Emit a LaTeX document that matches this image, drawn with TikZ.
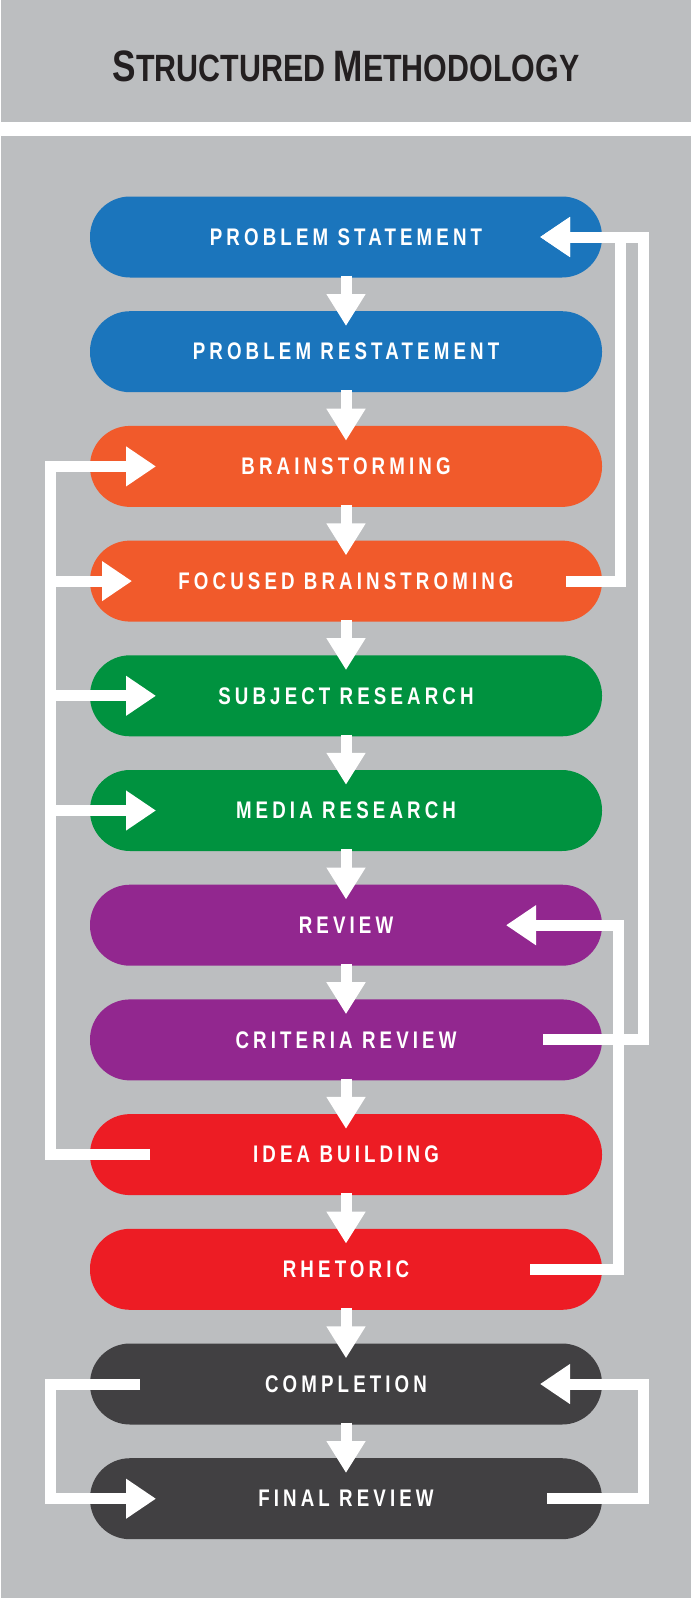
\documentclass[tikz,border=0pt]{standalone}
\usepackage{fontspec}
\setmainfont{Liberation Sans}
\newfontfamily\pillfont[LetterSpace=22]{Liberation Sans Bold}
\newfontfamily\titlefont{Liberation Sans Bold}
\usetikzlibrary{arrows.meta,calc}
\definecolor{bg}{HTML}{BCBEC0}
\definecolor{cblue}{HTML}{1B75BC}
\definecolor{corange}{HTML}{F15A2B}
\definecolor{cgreen}{HTML}{00923F}
\definecolor{cpurple}{HTML}{92278F}
\definecolor{cred}{HTML}{ED1C24}
\definecolor{cdark}{HTML}{414042}
\definecolor{ctitle}{HTML}{231F20}
\tikzset{
 pill/.style={fill=#1,rounded corners=40pt,minimum width=512pt,minimum height=81pt,inner sep=0pt,text=white,
   font=\pillfont\fontsize{24}{24}\selectfont},
 conn/.style={draw=white,line width=11pt,line join=miter,-{Triangle[length=30pt,width=38pt]}},
 seg/.style={draw=white,line width=11pt,line join=miter},
}
\newcommand{\pt}[1]{\scalebox{0.78}[1]{#1}}
\begin{document}
\begin{tikzpicture}[x=1pt,y=-1pt]
\useasboundingbox (0,0) rectangle (692,1600);
\fill[white] (0,0) rectangle (692,1600);
\fill[bg] (1,0) rectangle (691,122);
\fill[bg] (1,136) rectangle (691,1598);
\node[text=ctitle,inner sep=0pt] (title) at (346,66) {\titlefont\scalebox{0.8}[1]{\fontsize{44}{44}\selectfont S\fontsize{38}{38}\selectfont TRUCTURED\ \fontsize{44}{44}\selectfont M\fontsize{38}{38}\selectfont ETHODOLOGY}};
\node[pill=cblue]   (p0)  at (346,237.0)  {\pt{PROBLEM STATEMENT}};
\node[pill=cblue]   (p1)  at (346,351.7)  {\pt{PROBLEM RESTATEMENT}};
\node[pill=corange] (p2)  at (346,466.4)  {\pt{BRAINSTORMING}};
\node[pill=corange] (p3)  at (346,581.1)  {\pt{FOCUSED BRAINSTROMING}};
\node[pill=cgreen]  (p4)  at (346,695.8)  {\pt{SUBJECT RESEARCH}};
\node[pill=cgreen]  (p5)  at (346,810.5)  {\pt{MEDIA RESEARCH}};
\node[pill=cpurple] (p6)  at (346,925.2)  {\pt{REVIEW}};
\node[pill=cpurple] (p7)  at (346,1039.9) {\pt{CRITERIA REVIEW}};
\node[pill=cred]    (p8)  at (346,1154.6) {\pt{IDEA BUILDING}};
\node[pill=cred]    (p9)  at (346,1269.3) {\pt{RHETORIC}};
\node[pill=cdark]   (p10) at (346,1384.0) {\pt{COMPLETION}};
\node[pill=cdark]   (p11) at (346,1498.7) {\pt{FINAL REVIEW}};
\foreach \a/\b in {p0/p1,p1/p2,p2/p3,p3/p4,p4/p5,p5/p6,p6/p7,p7/p8,p8/p9,p9/p10,p10/p11}{
  \draw[white,line width=11pt,-{Triangle[length=32pt,width=37pt]}] ($(\a.south)+(0,-2)$) -- ($(\b.north)+(0,15)$);
}
% right loops
\draw[conn] ($(p3)+(220,0)$) -| ($(p0)+(274,0)$) -- ($(p0)+(194,0)$);
\draw[conn] ($(p7)+(197,0)$) -| ($(p0)+(297,0)$) -- ($(p0)+(194,0)$);
\draw[conn] ($(p9)+(184,0)$) -| ($(p6)+(272,0)$) -- ($(p6)+(160,0)$);
% left loop
\draw[conn] ($(p8)+(-196,0)$) -| ($(p2)+(-296,0)$) -- ($(p2)+(-190,0)$);
\draw[conn] ($(p3)+(-301,0)$) -- ($(p3)+(-214,0)$);
\draw[conn] ($(p4)+(-301,0)$) -- ($(p4)+(-190,0)$);
\draw[conn] ($(p5)+(-301,0)$) -- ($(p5)+(-190,0)$);
% bottom loops
\draw[conn] ($(p10)+(-206,0)$) -| ($(p11)+(-296,0)$) -- ($(p11)+(-190,0)$);
\draw[conn] ($(p11)+(201,0)$) -| ($(p10)+(297,0)$) -- ($(p10)+(194,0)$);
\end{tikzpicture}
\end{document}
